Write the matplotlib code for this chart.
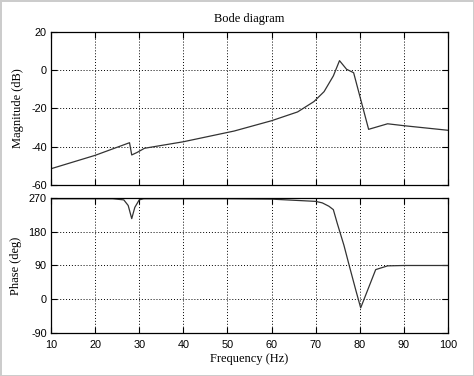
# Bode diagram (magnitude and phase)

import numpy as np
import matplotlib.pyplot as plt

# Magnitude curve
mag_freq = [10, 20, 27.8, 28.3, 29.5, 31.2, 40, 51.5, 60, 65.9, 69.6, 71.9, 74.0, 75.4, 77.0, 78.6, 82.0, 86.3, 90, 100]
mag_db = [-51.5, -44.5, -37.9, -44.3, -43.0, -40.8, -37.4, -31.8, -26.4, -21.8, -16.4, -11.2, -3.0, 5.0, 0.5, -1.3, -30.9, -28.0, -29.0, -31.4]

# Phase curve
ph_freq = [10, 24, 26.5, 27.5, 28.3, 29.0, 30, 31, 50, 60, 70, 71.5, 73.0, 74.0, 74.9, 76.4, 77.6, 79.1, 80.2, 83.6, 86.3, 90, 100]
ph_deg = [268, 268, 265, 250, 215, 245, 265, 268, 268, 267, 261, 257, 248, 239, 202, 144, 90, 24, -23, 79, 89, 90, 90]

plt.rcParams['font.family'] = ['Liberation Serif', 'DejaVu Serif']
plt.rcParams['axes.unicode_minus'] = False

fig = plt.figure(figsize=(4.74, 3.76), dpi=100)
fig.patch.set_edgecolor('#cccccc')
fig.patch.set_linewidth(2)

ax1 = fig.add_axes([0.1076, 0.508, 0.8376, 0.407])
ax2 = fig.add_axes([0.1076, 0.1144, 0.8376, 0.359])

ax1.plot(mag_freq, mag_db, color='#333333', linewidth=0.9)
ax2.plot(ph_freq, ph_deg, color='#333333', linewidth=0.9)

ax1.set_xlim(10, 100)
ax1.set_ylim(-60, 20)
ax1.set_yticks([-60, -40, -20, 0, 20])
ax1.set_xticks(np.arange(10, 101, 10))
ax1.set_xticklabels([])

ax2.set_xlim(10, 100)
ax2.set_ylim(-90, 270)
ax2.set_yticks([-90, 0, 90, 180, 270])
ax2.set_xticks(np.arange(10, 101, 10))

for ax in (ax1, ax2):
    ax.grid(True, color='black', linestyle=(0, (1, 2)), linewidth=0.7)
    ax.tick_params(direction='in', top=True, right=True, length=4, width=0.8, pad=3)
    ax.tick_params(axis='x', pad=5)
    for lab in ax.get_xticklabels() + ax.get_yticklabels():
        lab.set_family('Liberation Sans')
        lab.set_fontsize(7.8)
    for s in ax.spines.values():
        s.set_linewidth(0.9)

ax1.set_title('Bode diagram', fontsize=9, pad=7)
ax1.set_ylabel('Magnitude (dB)', fontsize=9, labelpad=5)
ax2.set_ylabel('Phase (deg)', fontsize=9, labelpad=5)
ax2.set_xlabel('Frequency (Hz)', fontsize=9, labelpad=2)

plt.savefig('out.png', dpi=100)
